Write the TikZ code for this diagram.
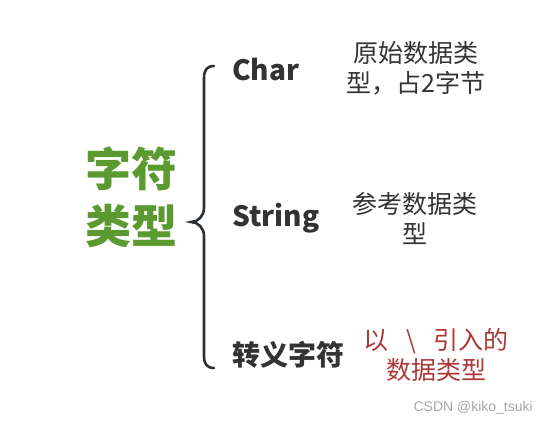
\documentclass[tikz,border=0pt]{standalone}
\usepackage{fontspec}
\usepackage{xcolor}
\setmainfont{Noto Sans CJK SC}
\newfontfamily\markfont{Liberation Sans}
\usetikzlibrary{positioning}
\definecolor{titlegreen}{HTML}{5A9A30}
\definecolor{notered}{HTML}{AE3838}
\definecolor{labelgray}{HTML}{333333}
\definecolor{bracegray}{HTML}{2B2F36}

\begin{document}
\begin{tikzpicture}[x=1pt,y=-1pt,
	item/.style={anchor=west,inner sep=0pt,text=labelgray,font=\fontsize{28}{30}\selectfont\bfseries},
	note/.style={align=center,inner sep=0pt,text=labelgray,font=\fontsize{25}{30}\selectfont}]
		\useasboundingbox (0,0) rectangle (547,423);
		\node[align=center,inner sep=0pt,text=titlegreen,font=\fontsize{46}{57}\selectfont\bfseries] (title) at (131,197) {字符\\类型};
		\node[item] (char) at (232,70) {Char};
		\node[item] (string) at (232,218) {String};
		\node[item] (escape) at (232,355) {转义字符};
		\node[note] (charnote) at (416,68) {原始数据类\\型，占2字节};
		\node[note] (stringnote) at (415,218) {参考数据类\\型};
		\node[note,text=notered] (escapenote) at (436,355) {以\hspace{0.7em}\textbackslash\hspace{0.7em}引入的\\数据类型};
		% brace
		\draw[bracegray,line width=2.6pt,line cap=round]
			(214,66) .. controls (207,66) and (204,70) .. (204,78)
			-- (204,208) .. controls (204,216) and (198,222) .. (191,222)
			.. controls (198,222) and (204,228) .. (204,236)
			-- (204,356) .. controls (204,364) and (207,368) .. (214,368);
		\node[anchor=east,inner sep=0pt,text=gray!70,font=\fontsize{14}{16}\selectfont\markfont] (mark) at (533,408) {CSDN @kiko\_tsuki};
	\end{tikzpicture}
\end{document}
